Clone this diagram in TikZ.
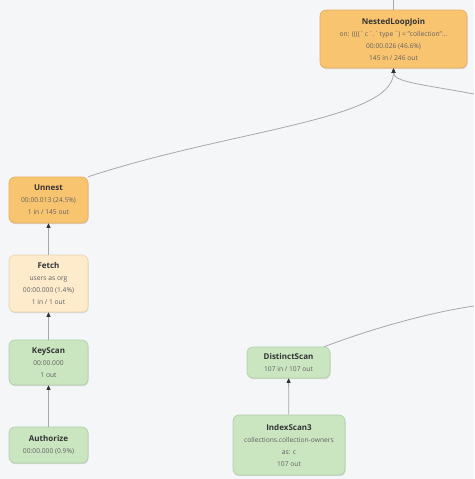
\documentclass[tikz,border=0pt]{standalone}
\usepackage{fontspec}
\setmainfont{Open Sans}
\usetikzlibrary{arrows.meta,shadows}
\definecolor{planbg}{HTML}{F5F6F8}
\definecolor{joinfill}{HTML}{F9C470}
\definecolor{joinline}{HTML}{E2AE5E}
\definecolor{fetchfill}{HTML}{FDEBCC}
\definecolor{fetchline}{HTML}{EAD3AE}
\definecolor{scanfill}{HTML}{C9E6C1}
\definecolor{scanline}{HTML}{AFCFA7}
\definecolor{linkgray}{HTML}{A8A8A8}
\newcommand{\optitle}[1]{{\fontsize{8}{12}\selectfont\bfseries\color{black!80}#1}}
\newcommand{\bq}{\textasciigrave}
\begin{document}
\begin{tikzpicture}[x=1pt, y=-1pt,
				op/.style={rounded corners=6pt, draw, line width=0.6pt, align=center,
						inner sep=1pt, text=black!62, font=\fontsize{6.7}{12}\selectfont,
						drop shadow={shadow xshift=0.6pt, shadow yshift=-1.2pt, opacity=0.25}},
				joinop/.style={op, fill=joinfill, draw=joinline},
				fetchop/.style={op, fill=fetchfill, draw=fetchline},
				scanop/.style={op, fill=scanfill, draw=scanline},
				link/.style={draw=linkgray, line width=0.8pt,
						-{Triangle[length=4.5pt, width=4pt, color=black!80]}},
				edge/.style={draw=linkgray, line width=0.8pt}]

			% fondo
			\fill[planbg] (0,0) rectangle (474,479);
			\useasboundingbox (0,0) rectangle (474,479);

			% Nodos del plan
			\node[joinop, minimum width=147pt, minimum height=58pt] (join) at (393.5,39)
				{\optitle{NestedLoopJoin}\\ on: ((((\bq\,c\,\bq.\bq\,type\,\bq) = "collection"...\\ 00:00.026 (46.6\%)\\ 145 in / 246 out};
			\node[joinop, minimum width=79pt, minimum height=46pt] (unnest) at (48.5,200)
				{\optitle{Unnest}\\ 00:00.013 (24.5\%)\\ 1 in / 145 out};
			\node[fetchop, minimum width=79pt, minimum height=57pt] (fetch) at (48.5,283.5)
				{\optitle{Fetch}\\ users as org\\ 00:00.000 (1.4\%)\\ 1 in / 1 out};
			\node[scanop, minimum width=79pt, minimum height=45pt] (keyscan) at (48.5,362.5)
				{\optitle{KeyScan}\\ 00:00.000\\ 1 out};
			\node[scanop, minimum width=79pt, minimum height=36pt] (authorize) at (48.5,445)
				{\optitle{Authorize}\\ 00:00.000 (0.9\%)};
			\node[scanop, minimum width=83pt, minimum height=31pt] (distinct) at (288.5,362.5)
				{\optitle{DistinctScan}\\ 107 in / 107 out};
			\node[scanop, minimum width=112pt, minimum height=60pt] (indexscan) at (289,445)
				{\optitle{IndexScan3}\\ collections.collection-owners\\ as: c\\ 107 out};

			% Extremos fuera de la imagen
			\coordinate (top) at (393.5,0);
			\coordinate (rightin) at (474,94);
			\coordinate (rightout) at (474,306);

			% Aristas
			\draw[edge] (join.north) -- (top);
			\draw[link] (unnest.north east) .. controls (230,130) and (393.5,120) .. (join.south);
			\draw[link] (rightin) .. controls (420,84) and (393.5,82) .. (join.south);
			\draw[link] (fetch) -- (unnest);
			\draw[link] (keyscan) -- (fetch);
			\draw[link] (authorize) -- (keyscan);
			\draw[link] (indexscan) -- (distinct);
			\draw[edge] ([xshift=-6pt]distinct.north east) .. controls (360,333) and (420,314) .. (rightout);
		\end{tikzpicture}
\end{document}
